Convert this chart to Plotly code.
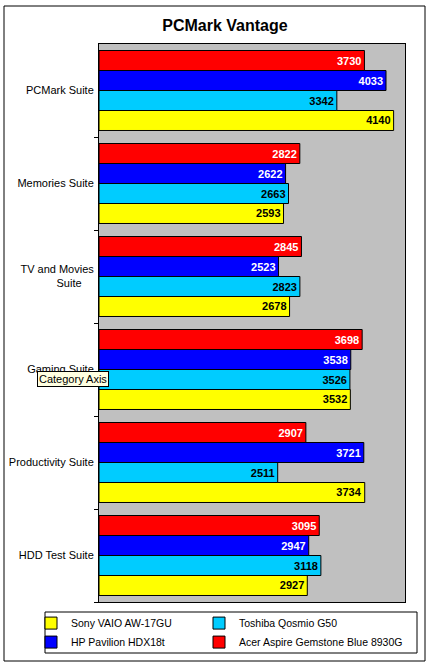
from plotly import graph_objs as go

categories = ["PCMark Suite", "Memories Suite", "TV and Movies Suite",
              "Gaming Suite", "Productivity Suite", "HDD Test Suite"]

sony = [4140, 2593, 2678, 3532, 3734, 2927]
toshiba = [3342, 2663, 2823, 3526, 2511, 3118]
hp = [4033, 2622, 2523, 3538, 3721, 2947]
acer = [3730, 2822, 2845, 3698, 2907, 3095]

# name, values, colour, label colour, legend column
series = [
    ("Sony VAIO AW-17GU", sony, "#FFFF00", "black", "legend"),
    ("Toshiba Qosmio G50", toshiba, "#00CCFF", "black", "legend2"),
    ("HP Pavilion HDX18t", hp, "#0000FF", "white", "legend"),
    ("Acer Aspire Gemstone Blue 8930G", acer, "#FF0000", "white", "legend2"),
]

# two-line label for the long category, roughly centred like the original
tick_text = []
for c in categories:
    if c == "TV and Movies Suite":
        tick_text.append("TV and Movies<br>Suite" + "&nbsp;" * 4)
    else:
        tick_text.append(c)

fig = go.Figure()

for name, vals, color, txtcolor, leg in series:
    fig.add_trace(go.Bar(
        y=categories,
        x=vals,
        name=name,
        orientation="h",
        legend=leg,
        marker=dict(color=color, line=dict(color="black", width=1)),
        text=[str(v) for v in vals],
        textposition="inside",
        insidetextanchor="end",
        textangle=0,
        textfont=dict(family="Arial", size=11, color=txtcolor, weight="bold"),
        hoverinfo="skip",
    ))

leg_style = dict(
    orientation="v",
    xanchor="left",
    y=-0.0118, yanchor="top",
    bgcolor="rgba(0,0,0,0)",
    borderwidth=0,
    font=dict(family="Arial", size=10.5, color="black"),
    traceorder="normal",
    tracegroupgap=0,
)

fig.update_layout(
    width=431,
    height=665,
    margin=dict(l=99, r=26, t=44, b=63, autoexpand=False),
    paper_bgcolor="white",
    plot_bgcolor="#C0C0C0",
    barmode="group",
    bargap=0.14,
    bargroupgap=0,
    font=dict(family="Arial", size=11, color="black"),
    title=dict(text="<b>PCMark Vantage</b>", x=225 / 431, xanchor="center",
               y=1 - 25 / 665, yanchor="middle",
               font=dict(family="Arial", size=16, color="black")),
    uniformtext=dict(minsize=11, mode="show"),
    legend=dict(x=(31 - 99) / 306, **leg_style),
    legend2=dict(x=(199 - 99) / 306, **leg_style),
    showlegend=True,
)

fig.update_xaxes(
    range=[0, 4300],
    showticklabels=False,
    showgrid=False,
    zeroline=False,
    showline=True,
    linecolor="black",
    linewidth=1,
    mirror=True,
    ticks="",
)

fig.update_yaxes(
    categoryorder="array",
    categoryarray=categories[::-1],
    tickvals=categories,
    ticktext=tick_text,
    showline=True,
    linecolor="black",
    linewidth=1,
    mirror=True,
    ticks="outside",
    ticklen=4,
    tickcolor="black",
    tickson="boundaries",
    showgrid=False,
    ticklabelstandoff=2,
    automargin=False,
)

# outer chart border
fig.add_shape(type="rect", xref="paper", yref="paper",
              x0=(4 - 99) / 306, x1=(425 - 99) / 306,
              y0=(602 - 661) / 558, y1=(602 - 6) / 558,
              line=dict(color="black", width=1), layer="below")
# legend border
fig.add_shape(type="rect", xref="paper", yref="paper",
              x0=(45 - 99) / 306, x1=(417 - 99) / 306,
              y0=(602 - 653) / 558, y1=(602 - 612) / 558,
              line=dict(color="black", width=1), layer="below")

# tooltip caught in the screenshot
fig.add_annotation(
    text="Category Axis", xref="paper", yref="paper",
    x=(37 - 99) / 306, xanchor="left",
    y=(602 - 379) / 558, yanchor="middle",
    showarrow=False,
    bgcolor="#FFFFE1", bordercolor="black", borderwidth=1, borderpad=1,
    font=dict(family="Arial", size=11, color="black"),
)

fig.write_html("out.html", config={"displayModeBar": False},
               post_script="document.body.style.margin='0px';")
